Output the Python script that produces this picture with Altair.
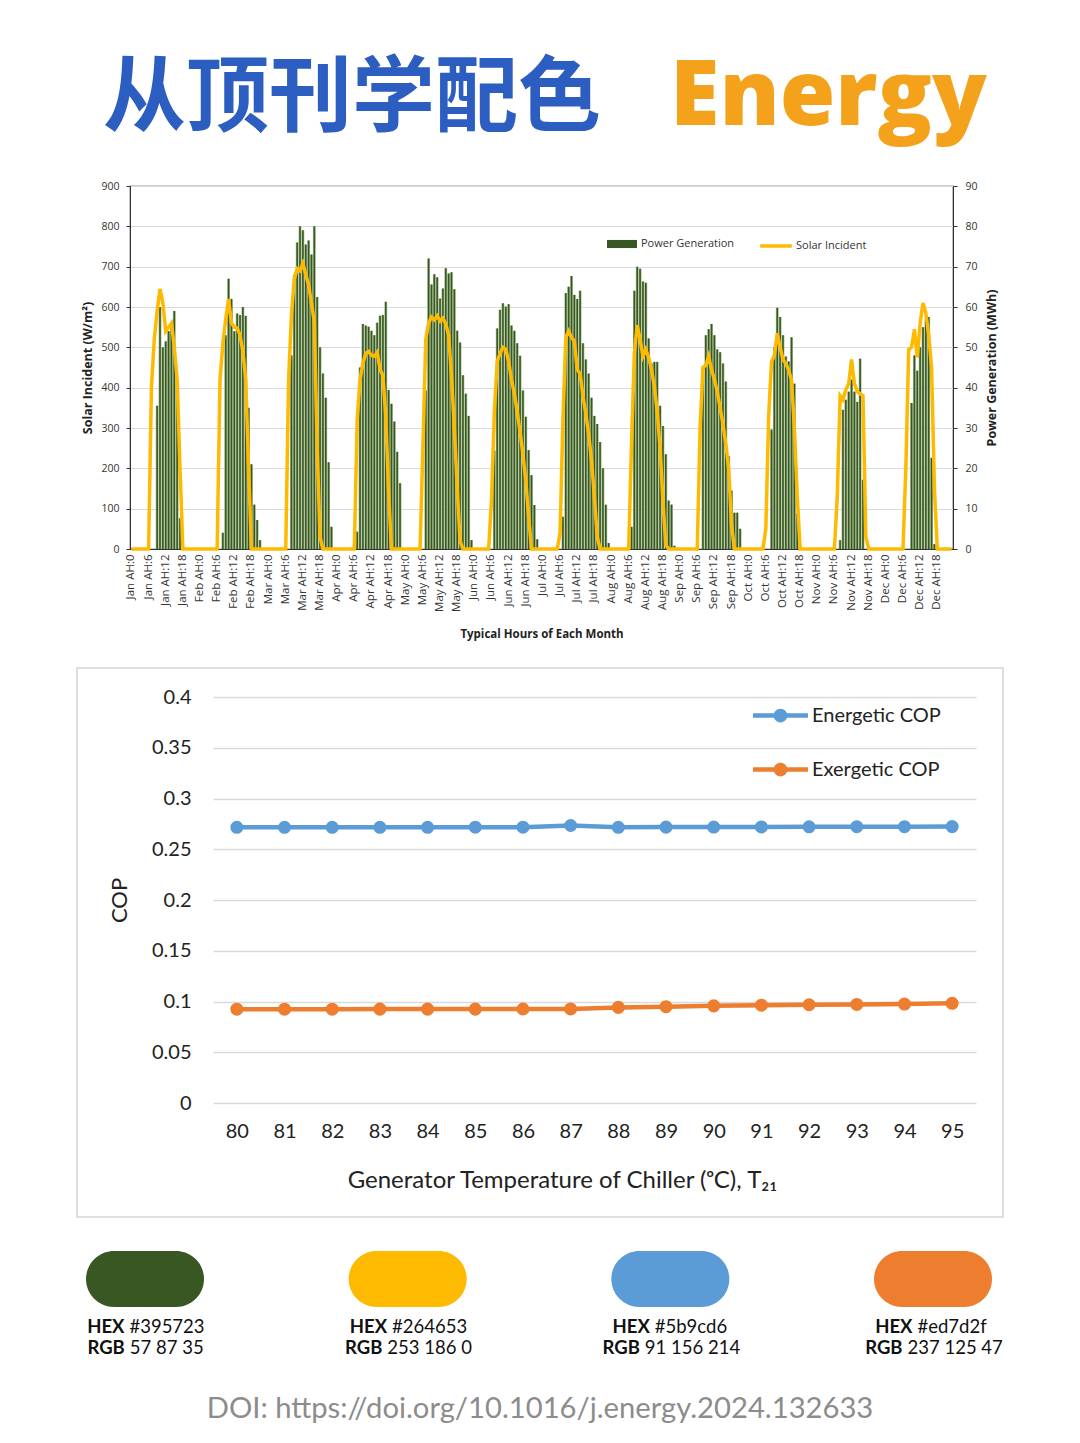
import altair as alt
import pandas as pd

# ---------------- data: top chart (hourly typical days) ----------------
MONTHS = ["Jan", "Feb", "Mar", "Apr", "May", "Jun", "Jul", "Aug", "Sep", "Oct", "Nov", "Dec"]

# Power Generation (MWh), hours 0..23
PG_JAN = [0, 0, 0, 0, 0, 0, 0, 0, 0, 35.5, 60, 50, 51.5, 54, 56, 59, 42, 7.6, 0, 0, 0, 0, 0, 0]
PG_FEB = [0, 0, 0, 0, 0, 0, 0, 0, 4, 53, 67, 62, 54, 58.4, 58, 60, 57.8, 35, 21, 11, 7.2, 2.2, 0, 0]
PG_MAR = [0, 0, 0, 0, 0, 0, 0, 0, 48, 68, 76, 80, 79, 75.5, 76.5, 73, 80, 62.5, 50, 43.5, 37.5, 21.5, 5.5, 0]
PG_APR = [0, 0, 0, 0, 0, 0, 0, 4.3, 45, 55.8, 55.4, 55.1, 54.1, 53, 56.1, 57.8, 58, 61.3, 39.4, 36, 31.6, 24.1, 16.3, 0]
PG_MAY = [0, 0, 0, 0, 0, 0, 0, 39.3, 72, 65.6, 68.1, 67.4, 62.1, 64.6, 69.6, 68.3, 68.6, 64.4, 54.1, 51.2, 43.1, 38.5, 33, 2.2]
PG_JUN = [0, 0, 0, 0, 0, 0, 0, 24.4, 54.7, 59.3, 60.9, 60.1, 60.7, 55.4, 54.1, 51, 47.9, 39.3, 32.8, 24.5, 18.3, 10.9, 2.4, 0]
PG_JUL = [0, 0, 0, 0, 0, 0, 0, 8, 63.5, 65, 67.7, 63, 62, 64, 51, 47, 43.5, 37.5, 33, 31, 26.5, 20, 11, 1.5]
PG_AUG = [0, 0, 0, 0, 0, 0, 0, 5.5, 64, 70, 69.5, 66.3, 66, 52.2, 46, 46.4, 46.4, 35.5, 30.5, 23.5, 12, 11, 0.8, 0]
PG_SEP = [0, 0, 0, 0, 0, 0, 0, 0, 45, 53, 54.5, 55.8, 53, 49.5, 48.8, 46, 41.5, 23, 14.5, 9, 9, 5, 0, 0]
PG_OCT = [0, 0, 0, 0, 0, 0, 0, 0, 29.6, 50, 59.8, 57.5, 53, 47.7, 46.5, 52.5, 41, 8.8, 1.2, 0, 0, 0, 0, 0]
PG_NOV = [0, 0, 0, 0, 0, 0, 0, 0, 2.2, 34.5, 37, 39, 42, 39, 36.5, 47.2, 17.2, 0, 0, 0, 0, 0, 0, 0]
PG_DEC = [0, 0, 0, 0, 0, 0, 0, 0, 0, 36.2, 48, 44.2, 50, 55, 57, 57.5, 22.6, 1.2, 0, 0, 0, 0, 0, 0]

# Solar Incident (W/m2), hours 0..23
SI_JAN = [0, 0, 0, 0, 0, 0, 0, 400, 520, 590, 645, 610, 540, 550, 560, 500, 420, 200, 0, 0, 0, 0, 0, 0]
SI_FEB = [0, 0, 0, 0, 0, 0, 0, 420, 510, 570, 620, 560, 550, 548, 530, 490, 420, 200, 0, 0, 0, 0, 0, 0]
SI_MAR = [0, 0, 0, 0, 0, 0, 0, 420, 580, 670, 695, 690, 708, 680, 655, 610, 563, 250, 30, 0, 0, 0, 0, 0]
SI_APR = [0, 0, 0, 0, 0, 0, 0, 320, 420, 460, 485, 490, 480, 478, 488, 445, 430, 330, 140, 0, 0, 0, 0, 0]
SI_MAY = [0, 0, 0, 0, 0, 0, 250, 520, 560, 575, 568, 578, 565, 572, 558, 530, 430, 300, 150, 20, 0, 0, 0, 0]
SI_JUN = [0, 0, 0, 0, 0, 0, 120, 340, 465, 485, 500, 495, 465, 420, 385, 340, 290, 235, 170, 80, 0, 0, 0, 0]
SI_JUL = [0, 0, 0, 0, 0, 0, 40, 320, 525, 540, 525, 515, 445, 435, 380, 336, 285, 220, 130, 30, 0, 0, 0, 0]
SI_AUG = [0, 0, 0, 0, 0, 0, 0, 260, 485, 555, 520, 478, 495, 475, 445, 402, 340, 250, 120, 10, 0, 0, 0, 0]
SI_SEP = [0, 0, 0, 0, 0, 0, 0, 300, 450, 455, 478, 445, 420, 390, 350, 310, 260, 200, 60, 0, 0, 0, 0, 0]
SI_OCT = [0, 0, 0, 0, 0, 0, 50, 330, 465, 480, 535, 500, 470, 460, 444, 418, 300, 130, 0, 0, 0, 0, 0, 0]
SI_NOV = [0, 0, 0, 0, 0, 0, 0, 130, 380, 370, 395, 410, 470, 410, 390, 385, 380, 30, 0, 0, 0, 0, 0, 0]
SI_DEC = [0, 0, 0, 0, 0, 0, 0, 200, 495, 500, 545, 475, 560, 610, 585, 530, 450, 150, 0, 0, 0, 0, 0, 0]

# ---------------- data: bottom chart ----------------
TEMPS = [80, 81, 82, 83, 84, 85, 86, 87, 88, 89, 90, 91, 92, 93, 94, 95]
EN_COP = [0.2716, 0.2716, 0.2716, 0.2716, 0.2716, 0.2717, 0.2717, 0.2734,
          0.2716, 0.2718, 0.2719, 0.2720, 0.2721, 0.2722, 0.2722, 0.2723]
EX_COP = [0.0924, 0.0924, 0.0924, 0.0925, 0.0925, 0.0925, 0.0926, 0.0927,
          0.0942, 0.0949, 0.0957, 0.0964, 0.0968, 0.0971, 0.0975, 0.0982]
COP_SERIES = ["Energetic COP", "Exergetic COP"]
COP_COLORS = ["#5b9cd6", "#ed7d2f"]
COP_TICKS = [0, 0.05, 0.1, 0.15, 0.2, 0.25, 0.3, 0.35, 0.4]

# ---------------- data: swatches ----------------
SW_HEX = ["#395723", "#264653", "#5b9cd6", "#ed7d2f"]
SW_RGB = ["57 87 35", "253 186 0", "91 156 214", "237 125 47"]
SW_FILL = ["#395723", "#fdba00", "#5b9cd6", "#ed7d2f"]
DOI = "DOI: https://doi.org/10.1016/j.energy.2024.132633"
TITLE_CN = "从顶刊学配色"
TITLE_EN = "Energy"

FONT = "Lato"
TFONT = "Open Sans"

# ---------------- build top chart ----------------
PG = [PG_JAN, PG_FEB, PG_MAR, PG_APR, PG_MAY, PG_JUN, PG_JUL, PG_AUG, PG_SEP, PG_OCT, PG_NOV, PG_DEC]
SI = [SI_JAN, SI_FEB, SI_MAR, SI_APR, SI_MAY, SI_JUN, SI_JUL, SI_AUG, SI_SEP, SI_OCT, SI_NOV, SI_DEC]
rows = []
for m, name in enumerate(MONTHS):
    for h in range(24):
        rows.append({"key": f"{name} AH:{h}", "power": PG[m][h], "solar": SI[m][h]})
df_top = pd.DataFrame(rows)
ORDER = df_top["key"].tolist()
TICK_KEYS = [f"{n} AH:{h}" for n in MONTHS for h in (0, 6, 12, 18)]

x_top = alt.X(
    "key:N", sort=ORDER, scale=alt.Scale(paddingInner=0, paddingOuter=0),
    axis=alt.Axis(values=TICK_KEYS, labelAngle=270, labelOverlap=False, ticks=False,
                  domainColor="#333333", labelFont=TFONT, labelFontSize=11.5, labelColor="#333333",
                  labelPadding=5, title="Typical Hours of Each Month", titleFont=TFONT,
                  titleFontSize=11.5, titleFontWeight="bold", titleColor="#222222", titlePadding=17),
)

top_base = alt.Chart(df_top).transform_calculate(pg="'Power Generation'", si="'Solar Incident'")

light = top_base.mark_bar(width={"band": 1}, color="#a3bd8e").encode(
    x=x_top, y=alt.Y("power:Q", scale=alt.Scale(domain=[0, 90]), axis=None))

dark = top_base.mark_bar(width={"band": 0.55}).encode(
    x=x_top,
    y=alt.Y("power:Q", scale=alt.Scale(domain=[0, 90]),
            axis=alt.Axis(orient="right", values=list(range(0, 91, 10)), grid=False,
                          domainColor="#333333", tickColor="#333333", tickSize=4,
                          labelFont=TFONT, labelFontSize=10.5, labelColor="#333333", labelPadding=8,
                          title="Power Generation (MWh)", titleFont=TFONT, titleFontSize=12.5,
                          titleFontWeight="bold", titleColor="#222222", titleAngle=270,
                          titleBaseline="top", titlePadding=8)),
    fill=alt.Fill("pg:N", scale=alt.Scale(domain=["Power Generation"], range=["#395723"]),
                  legend=alt.Legend(orient="none", legendX=476, legendY=42, title=None,
                                    symbolType="M-1,-0.27H1V0.27H-1Z", symbolSize=900,
                                    labelFont=TFONT, labelFontSize=11, labelColor="#333333",
                                    labelOffset=3)),
)

line = top_base.mark_line(strokeWidth=3.5).encode(
    x=x_top,
    y=alt.Y("solar:Q", scale=alt.Scale(domain=[0, 900]),
            axis=alt.Axis(orient="left", values=list(range(0, 901, 100)), grid=True,
                          gridColor="#d9d9d9", domainColor="#333333", tickColor="#333333",
                          tickSize=4, labelFont=TFONT, labelFontSize=10.5, labelColor="#333333",
                          labelPadding=7, title="Solar Incident (W/m²)", titleFont=TFONT,
                          titleFontSize=12.5, titleFontWeight="bold", titleColor="#222222",
                          titlePadding=6)),
    stroke=alt.Stroke("si:N", scale=alt.Scale(domain=["Solar Incident"], range=["#fdba00"]),
                      legend=alt.Legend(orient="none", legendX=628, legendY=42, title=None,
                                        symbolType="stroke", symbolSize=1000, symbolStrokeWidth=3.5,
                                        labelFont=TFONT, labelFontSize=11, labelColor="#333333",
                                        labelOffset=2)),
)

top = alt.layer(light, dark, line).resolve_scale(y="independent").properties(
    width=823, height=363, view=alt.ViewBackground(stroke="#333333", strokeWidth=1.2))

# ---------------- build bottom chart ----------------
df_cop = pd.DataFrame({
    "T": TEMPS + TEMPS,
    "series": [COP_SERIES[0]] * len(TEMPS) + [COP_SERIES[1]] * len(TEMPS),
    "cop": EN_COP + EX_COP,
})

x_b = alt.X("T:O", scale=alt.Scale(range=[83, 846], paddingInner=0, paddingOuter=0),
            axis=alt.Axis(labelAngle=0, ticks=False, domain=False, grid=False, labelFont=FONT,
                          labelFontSize=20, labelColor="#222222", labelPadding=18,
                          title="Generator Temperature of Chiller (ᵒC), T₂₁", titleFont=FONT,
                          titleFontSize=24, titleFontWeight="normal", titleColor="#222222",
                          titlePadding=27, titleX=432))
y_b = alt.Y("cop:Q", scale=alt.Scale(domain=[0, 0.4]),
            axis=alt.Axis(values=COP_TICKS, format="~g", offset=-83, grid=True, gridColor="#d9d9d9",
                          gridWidth=1.3, domain=False, ticks=False, labelFont=FONT, labelFontSize=20,
                          labelColor="#222222", labelPadding=22, title="COP", titleFont=FONT,
                          titleFontSize=22, titleFontWeight="normal", titleColor="#222222",
                          titlePadding=20))

LEG_PATH = ("M-1,-0.08H1V0.08H-1Z M0.25,0A0.25,0.25 0 1,1 -0.25,0A0.25,0.25 0 1,1 0.25,0Z")

cop_base = alt.Chart(df_cop).transform_calculate(legend_series="datum.series")

# line colours: same mapping, listed in reverse order (its own, legend-less scale)
blines = cop_base.mark_line(strokeWidth=4.5).encode(
    x=x_b, y=y_b,
    stroke=alt.Stroke("series:N", scale=alt.Scale(domain=COP_SERIES[::-1], range=COP_COLORS[::-1]),
                      legend=None))
bpts = cop_base.mark_point(filled=True, size=170, opacity=1).encode(
    x=x_b, y=y_b,
    fill=alt.Fill("legend_series:N", scale=alt.Scale(domain=COP_SERIES, range=COP_COLORS),
                  legend=alt.Legend(orient="none", legendX=622, legendY=-10, title=None,
                                    symbolType=LEG_PATH, symbolSize=3025, labelFont=FONT,
                                    labelFontSize=20, labelColor="#222222", labelOffset=3,
                                    rowPadding=15)))
frame = alt.Chart(pd.DataFrame({"f": [0]})).mark_rect(
    fill="transparent", stroke="#d6d6d6", strokeWidth=1.5).encode(
    x=alt.value(-53), x2=alt.value(873), y=alt.value(-29), y2=alt.value(520))

bottom = alt.layer(frame, blines, bpts).properties(width=846, height=406)

# ---------------- swatches + DOI ----------------
df_sw = pd.DataFrame({"hex": SW_HEX, "rgb": SW_RGB})
x_sw = alt.X("hex:N", sort=SW_HEX, scale=alt.Scale(type="point", range=[15, 803], padding=0), axis=None)

WB, GAP, CW, SPW = 36, 5, 10.3, 4.8


def off_expr(field):
    nsp = f"(length(split(datum.{field}, ' ')) - 1)"
    width = f"((length(datum.{field}) - {nsp}) * {CW} + {nsp} * {SPW})"
    return f"({WB} - {GAP} - {width}) / 2"


sw_base = alt.Chart(df_sw).transform_calculate(off_hex=off_expr("hex"), off_rgb=off_expr("rgb"))

pills = sw_base.mark_bar(width=118, cornerRadius=28).encode(
    x=x_sw, y=alt.value(0), y2=alt.value(56),
    color=alt.Color("hex:N", scale=alt.Scale(domain=SW_HEX, range=SW_FILL), legend=None))

txt_kw = dict(baseline="middle", font=FONT, fontSize=18.5, color="#111111")
hex_b = sw_base.mark_text(text="HEX", align="right", fontWeight="bold", **txt_kw).encode(
    x=x_sw, xOffset=alt.XOffset("off_hex:Q", scale=None), y=alt.value(76))
hex_v = sw_base.mark_text(align="left", dx=GAP, **txt_kw).encode(
    x=x_sw, xOffset=alt.XOffset("off_hex:Q", scale=None), y=alt.value(76), text="hex:N")
rgb_b = sw_base.mark_text(text="RGB", align="right", fontWeight="bold", **txt_kw).encode(
    x=x_sw, xOffset=alt.XOffset("off_rgb:Q", scale=None), y=alt.value(97))
rgb_v = sw_base.mark_text(align="left", dx=GAP, **txt_kw).encode(
    x=x_sw, xOffset=alt.XOffset("off_rgb:Q", scale=None), y=alt.value(97), text="rgb:N")
doi = alt.Chart(pd.DataFrame({"doi": [DOI]})).mark_text(
    align="center", baseline="middle", font=FONT, fontSize=29.2, color="#8c8c8c").encode(
    x=alt.value(410), y=alt.value(158), text="doi:N")

swatch = alt.layer(pills, hex_b, hex_v, rgb_b, rgb_v, doi).properties(width=823, height=56)

# ---------------- title ----------------
anchor = alt.Chart(pd.DataFrame({"a": [0]})).mark_rect(opacity=0).encode(
    x=alt.value(-122), x2=alt.value(942), y=alt.value(0), y2=alt.value(1))
t_cn = alt.Chart(pd.DataFrame({"t": [TITLE_CN]})).mark_text(
    align="left", baseline="middle", font="Noto Sans CJK SC", fontWeight="bold",
    fontSize=83, color="#2c5ec2").encode(x=alt.value(-27), y=alt.value(92), text="t:N")
t_en = alt.Chart(pd.DataFrame({"t": [TITLE_EN]})).mark_text(
    align="left", baseline="alphabetic", font="Open Sans", fontWeight=800,
    fontSize=90, color="#f4a21c").encode(x=alt.value(540), y=alt.value(117), text="t:N")
title_chart = alt.layer(anchor, t_cn, t_en).properties(width=823, height=30)

chart = alt.vconcat(title_chart, top, bottom, swatch, spacing=148, bounds="flush").resolve_scale(
    fill="independent", stroke="independent", color="independent").resolve_legend(
    fill="independent", stroke="independent", color="independent").properties(
    padding=0).configure_view(strokeWidth=0).configure_axis(labelFont=FONT, titleFont=FONT)

chart.save("out.html", embed_options={"renderer": "svg", "actions": False})
